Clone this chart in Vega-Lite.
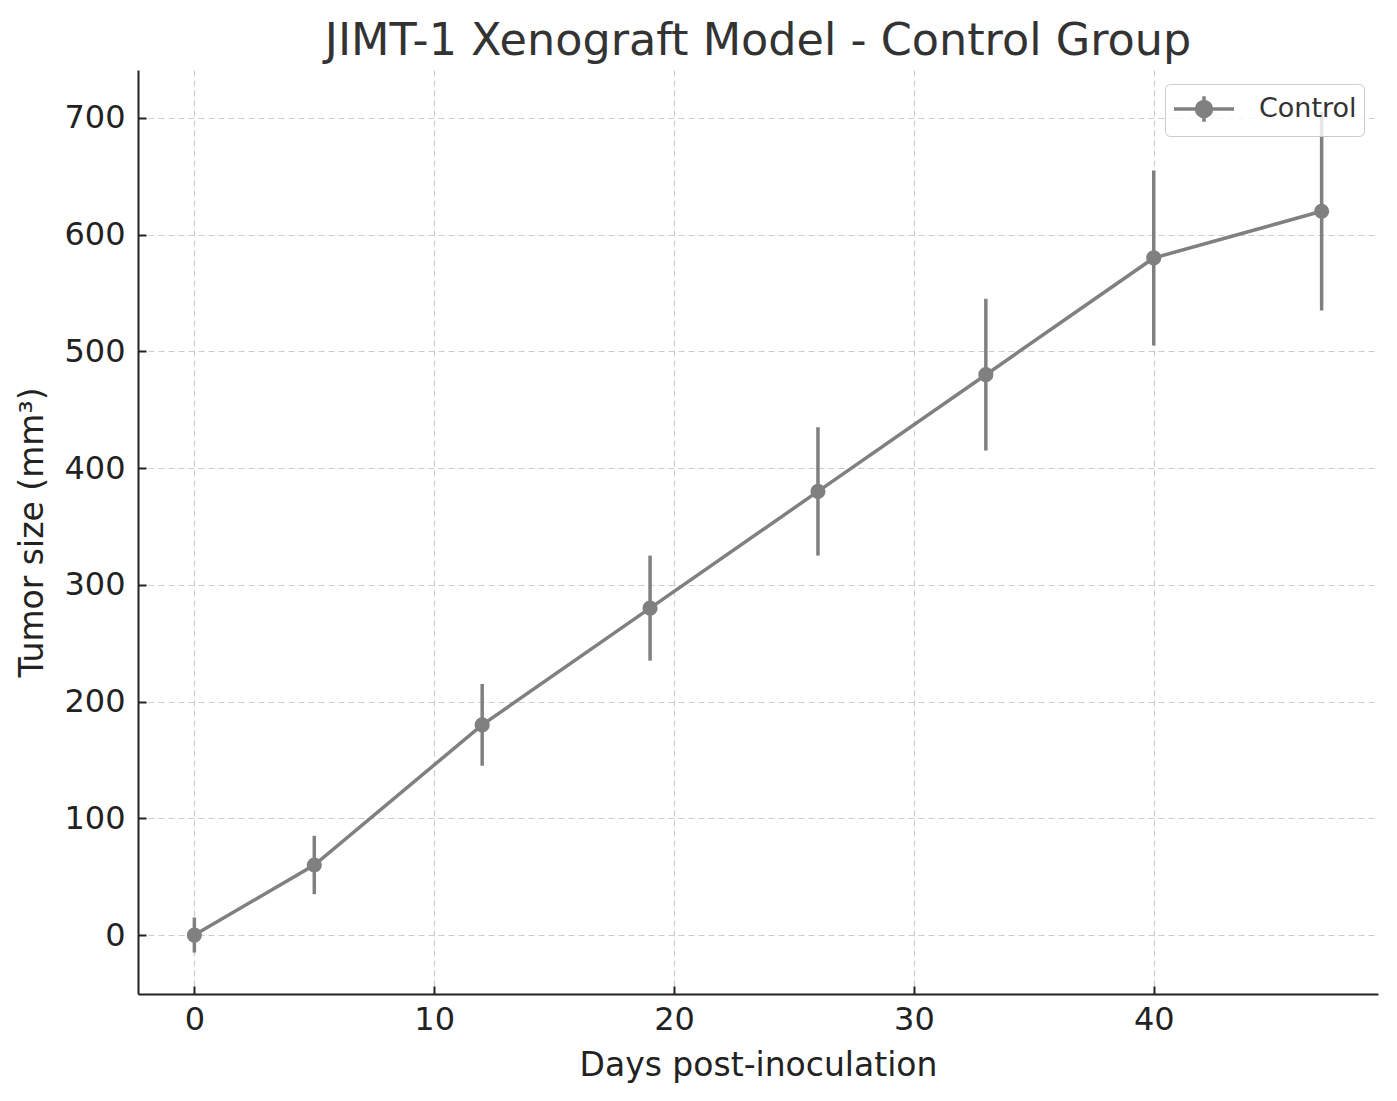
{
  "$schema": "https://vega.github.io/schema/vega-lite/v6.json",
  "width": 1240,
  "height": 924,
  "autosize": {"type": "none"},
  "padding": {"left": 138, "top": 70, "right": 19, "bottom": 107},
  "background": "white",
  "title": {
    "text": "JIMT-1 Xenograft Model - Control Group",
    "font": "DejaVu Sans",
    "fontSize": 44.5,
    "fontWeight": "normal",
    "color": "#333333",
    "offset": 6
  },
  "config": {
    "view": {"stroke": null},
    "font": "DejaVu Sans",
    "axis": {
      "labelFont": "DejaVu Sans",
      "labelFontSize": 32,
      "labelColor": "#222222",
      "titleFont": "DejaVu Sans",
      "titleFontSize": 33,
      "titleFontWeight": "normal",
      "titleColor": "#222222",
      "domainColor": "#222222",
      "domainWidth": 2,
      "tickColor": "#222222",
      "tickWidth": 2,
      "tickSize": -8,
      "gridColor": "#cccccc",
      "gridDash": [6, 4],
      "gridWidth": 1.2
    }
  },
  "data": {
    "values": [
      {"day": 0, "size": 0, "err": 15, "group": "Control"},
      {"day": 5, "size": 60, "err": 25, "group": "Control"},
      {"day": 12, "size": 180, "err": 35, "group": "Control"},
      {"day": 19, "size": 280, "err": 45, "group": "Control"},
      {"day": 26, "size": 380, "err": 55, "group": "Control"},
      {"day": 33, "size": 480, "err": 65, "group": "Control"},
      {"day": 40, "size": 580, "err": 75, "group": "Control"},
      {"day": 47, "size": 620, "err": 85, "group": "Control"}
    ]
  },
  "encoding": {
    "x": {
      "field": "day",
      "type": "quantitative",
      "title": "Days post-inoculation",
      "scale": {"domain": [-2.35, 49.35], "nice": false, "zero": false},
      "axis": {"values": [0, 10, 20, 30, 40], "labelPadding": 18, "titlePadding": 14}
    },
    "y": {
      "field": "size",
      "type": "quantitative",
      "title": "Tumor size (mm³)",
      "scale": {"domain": [-50.5, 741], "nice": false, "zero": false},
      "axis": {"values": [0, 100, 200, 300, 400, 500, 600, 700], "labelPadding": 21, "titlePadding": 14}
    }
  },
  "layer": [
    {
      "mark": {"type": "line", "strokeWidth": 3.5},
      "encoding": {
        "color": {
          "field": "group",
          "type": "nominal",
          "scale": {"range": ["#808080"]},
          "legend": {
            "title": null,
            "orient": "top-right",
            "offset": 14,
            "labelFont": "DejaVu Sans",
            "labelFontSize": 27,
            "labelColor": "#333333",
            "symbolType": "M-1,0H2.75M0.875,-0.8V0.8M1.345,0A0.47,0.47 0 1,1 0.405,0A0.47,0.47 0 1,1 1.345,0Z",
            "symbolSize": 1024,
            "symbolStrokeWidth": 3.5,
            "symbolFillColor": "#808080",
            "symbolStrokeColor": "#808080",
            "labelOffset": 51,
            "padding": 7,
            "fillColor": "rgba(255,255,255,0.8)",
            "strokeColor": "#cccccc",
            "cornerRadius": 5
          }
        }
      }
    },
    {
      "mark": {"type": "errorbar", "color": "#808080", "thickness": 3.5},
      "encoding": {
        "yError": {"field": "err"}
      }
    },
    {
      "mark": {"type": "point", "filled": true, "color": "#808080", "size": 230, "opacity": 1}
    }
  ]
}
